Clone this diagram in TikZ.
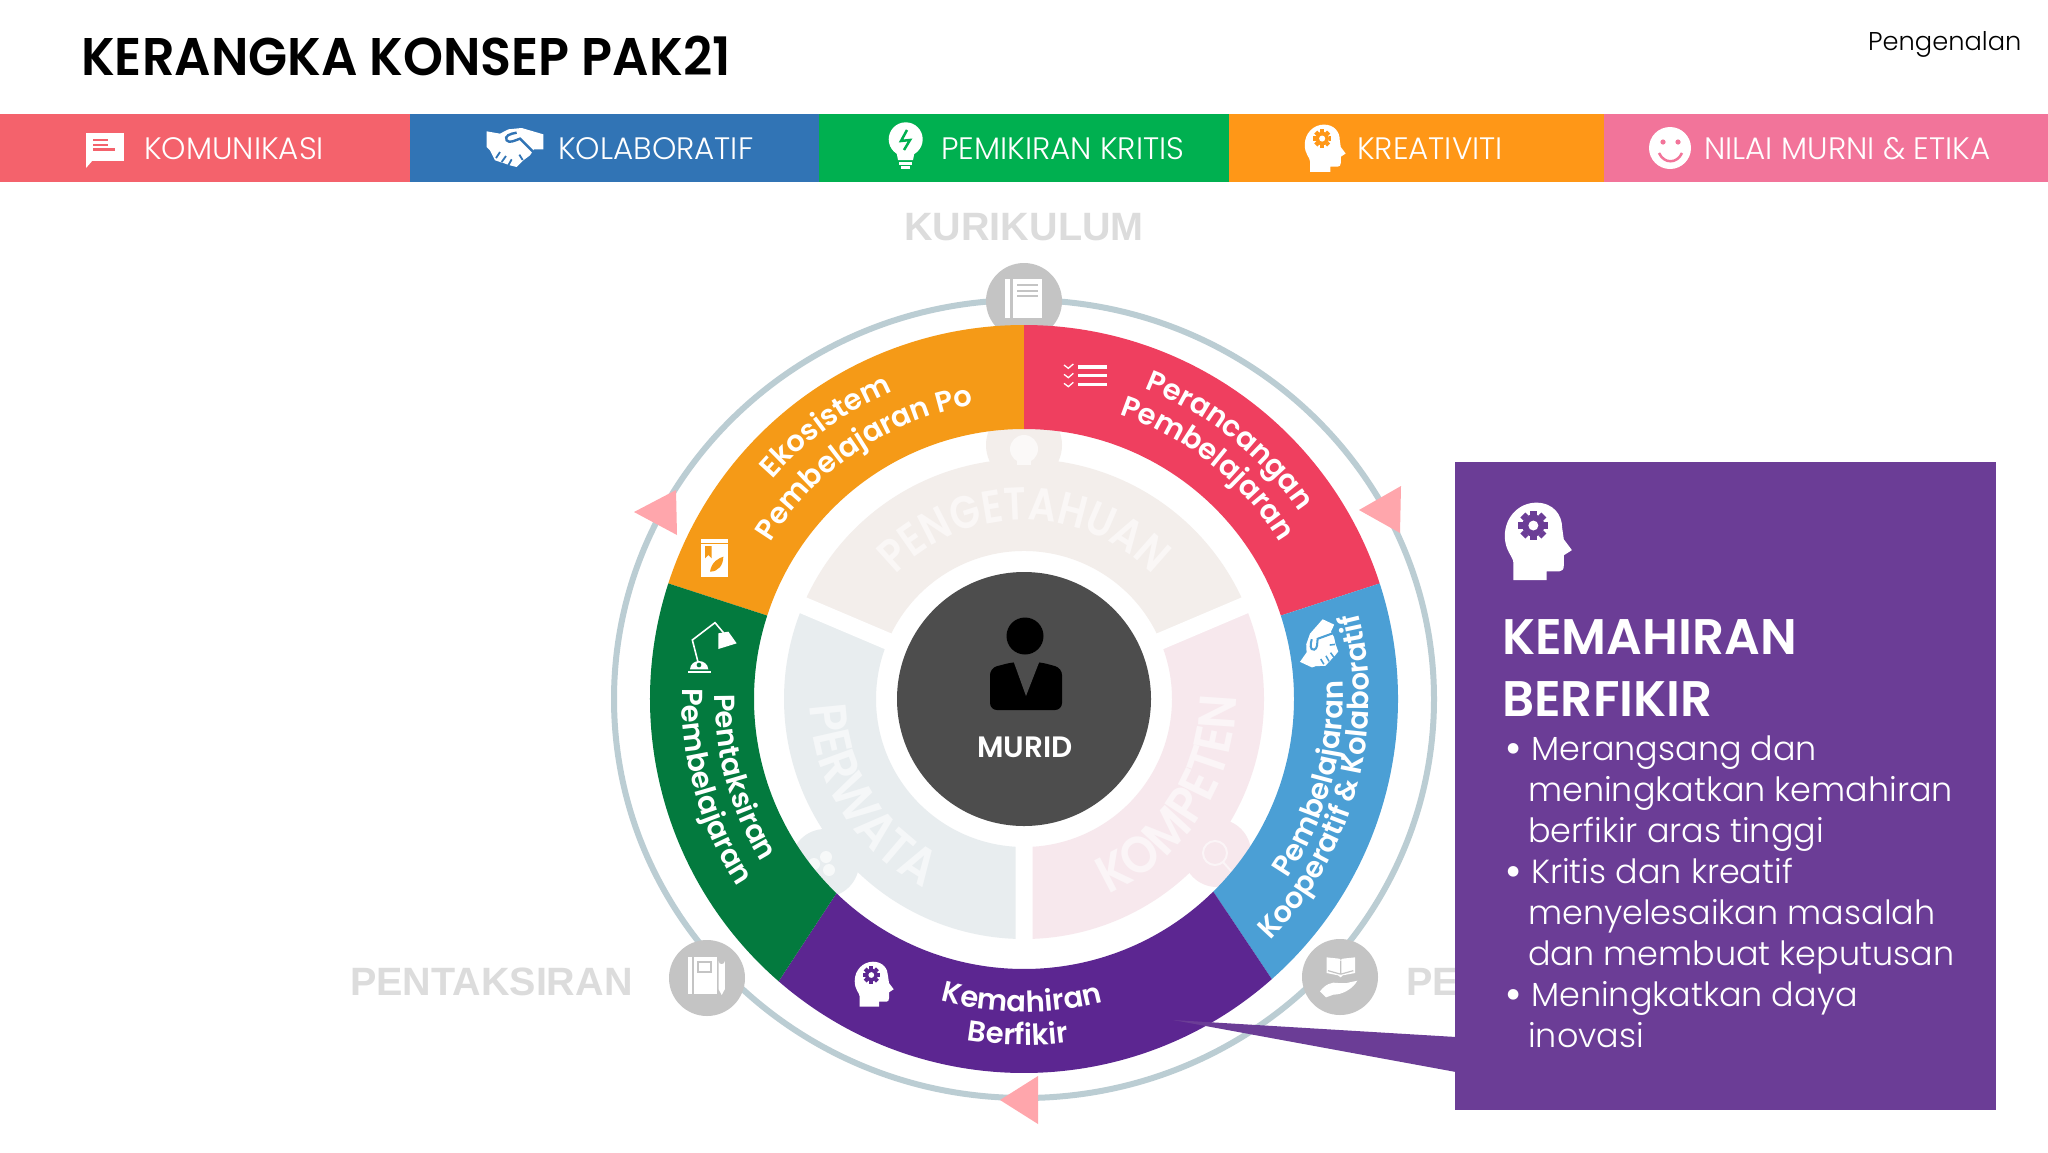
\documentclass[tikz,border=0pt]{standalone}
\usepackage{fontspec}
\usetikzlibrary{decorations.text,calc}
\setmainfont{Poppins}
\newfontfamily\ffLight{Poppins Light}
\newfontfamily\ffMed{Poppins Medium}
\newfontfamily\ffSemi{Poppins SemiBold}
\newfontfamily\ffNarrow{Poppins SemiBold}[FakeStretch=0.85]
\newfontfamily\ffSlim{Poppins SemiBold}[FakeStretch=0.9]
\newfontfamily\ffTitle{Poppins SemiBold}[FakeStretch=0.96]
\newfontfamily\ffArial{Liberation Sans}
\newcommand\px[1]{\fontsize{#1}{#1}\selectfont}
\definecolor{barred}{HTML}{F4626C}
\definecolor{barblue}{HTML}{3174B5}
\definecolor{bargreen}{HTML}{00B050}
\definecolor{barorange}{HTML}{FF9717}
\definecolor{barpink}{HTML}{F2749A}
\definecolor{segorange}{HTML}{F59A17}
\definecolor{segred}{HTML}{EF3F5F}
\definecolor{segblue}{HTML}{4B9FD5}
\definecolor{segpurple}{HTML}{5C2691}
\definecolor{seggreen}{HTML}{037A3E}
\definecolor{panelpurple}{HTML}{6B3D96}
\definecolor{ringblue}{HTML}{BBCDD3}
\definecolor{discgrey}{HTML}{C4C4C4}
\definecolor{labelgrey}{HTML}{DCDCDC}
\definecolor{trianglepink}{HTML}{FFA6AC}
\definecolor{secbeige}{HTML}{F3EEEB}
\definecolor{secgrey}{HTML}{E8EDEF}
\definecolor{secpink}{HTML}{F7E8ED}
\definecolor{darkdisc}{HTML}{4D4D4D}
\newcommand\ringseg[7]{% colour, outer start, outer end, inner start, inner end, R, r
  \fill[#1] (#2:#6) arc[start angle=#2,end angle=#3,radius=#6] -- (#5:#7) arc[start angle=#5,end angle=#4,radius=#7] -- cycle;}
\newcommand\arctext[6]{% colour, font, from, to, radius, text
  \path[decorate,decoration={text along path,text align=center,text color=#1,text={|#2|#6}}] (#3:#5) arc[start angle=#3,end angle=#4,radius=#5];}
\newcommand\gearicon[4]{% x,y,r,colour
  \foreach \g in {0,45,...,315}{\fill[#4] ($(#1,#2)+(\g:#3*0.72)$) ++(\g+90:#3*0.24) -- ++(\g:#3*0.3) -- ++(\g+270:#3*0.48) -- ++(\g+180:#3*0.3) -- cycle;}
  \fill[#4] (#1,#2) circle[radius=#3*0.76];
  \fill[white] (#1,#2) circle[radius=#3*0.34];}
\newcommand\headicon[4]{% x,y,scale,colour of the gear
  \begin{scope}[shift={(#1,#2)},scale=#3]
  \fill[white] (-14.3,22.7) -- (-14.3,12.7) .. controls (-14.3,9) and (-19.3,6) .. (-19.3,-3) .. controls (-19.3,-14) and (-11,-22.3) .. (-1,-22.3) .. controls (9,-22.3) and (14,-15) .. (14,-8) -- (15,-1) -- (19.7,5.3) -- (15,8.3) -- (15,14.3) .. controls (15,16.5) and (14,17.7) .. (12.3,17.7) -- (5,17.7) -- (5,22.7) -- cycle;
  \gearicon{-2.7}{-9}{8.5}{#4}
  \end{scope}}
\newcommand\handsicon[5]{% x,y,rotation,scale,background
  \begin{scope}[shift={(#1,#2)},rotate=#3,scale=#4/3,shift={(-105,-88)}]
  \fill[white] (20,38) -- (60,45) -- (85,32) -- (125,28) -- (190,47) -- (190,92) -- (162,92) -- (150,110) -- (130,125) -- (110,145) -- (90,140) -- (70,133) -- (45,125) -- (30,95) -- (20,85) -- cycle;
  \draw[#5,line width=#4*2.4pt] (110,42) .. controls (90,45) and (72,52) .. (80,65) .. controls (88,75) and (105,65) .. (120,60) -- (160,100);
  \draw[#5,line width=#4*1.8pt] (60,100) -- (48,118) (78,112) -- (65,130) (95,122) -- (85,140) (118,108) -- (128,124);
  \end{scope}}
\tikzset{
  barlabel/.style={anchor=base west,white,font=\ffLight\px{31},inner sep=0pt},
  ringlabel/.style={anchor=base west,labelgrey,font=\ffArial\bfseries\px{39.5},inner sep=0pt},
  paneltext/.style={anchor=base west,white,font=\ffLight\px{33.4},inner sep=0pt},
  panelhead/.style={anchor=base west,white,font=\ffSemi\px{50},inner sep=0pt},
  disc/.style={circle,fill=discgrey,minimum size=76pt,inner sep=0pt},
  triangle/.style={fill=trianglepink}
}
\begin{document}
\begin{tikzpicture}[x=1pt,y=-1pt]
\useasboundingbox (0,0) rectangle (2048,1152);
\fill[white] (0,0) rectangle (2048,1152);
% title
\node[anchor=base west,inner sep=0pt,font=\ffTitle\px{53}] (title) at (81,75) {KERANGKA KONSEP PAK21};
\node[anchor=base west,inner sep=0pt,font=\ffLight\px{25.7}] (section) at (1868,50) {Pengenalan};
% bar
\fill[barred] (0,114) rectangle (410,181.5);
\fill[barblue] (410,114) rectangle (819,181.5);
\fill[bargreen] (819,114) rectangle (1229,181.5);
\fill[barorange] (1229,114) rectangle (1604,181.5);
\fill[barpink] (1604,114) rectangle (2048,181.5);
\node[barlabel] (b1) at (144,159) {KOMUNIKASI};
\node[barlabel] (b2) at (558,159) {KOLABORATIF};
\node[barlabel] (b3) at (941,159) {PEMIKIRAN KRITIS};
\node[barlabel] (b4) at (1357,159) {KREATIVITI};
\node[barlabel] (b5) at (1704,159) {NILAI MURNI \& ETIKA};
% bar icons
\fill[white] (86,133) rectangle (124,161);
\fill[white] (86,160) -- (86,168) -- (93,160) -- cycle;
\draw[barred,line width=2.5pt] (93,140) -- (108,140) (93,145) -- (108,145) (93,149.5) -- (115,149.5);
\handsicon{515}{148}{0}{1}{barblue}
\fill[white] (905.7,139.3) circle[radius=17];
\fill[white] (896,150) -- (915,150) -- (913,160) -- (898,160) -- cycle;
\fill[white] (899,161.5) rectangle (912,165);
\fill[white] (901,166) rectangle (910,168.5);
\draw[bargreen,line width=2.5pt] (907,130) -- (901,141) -- (910,140) -- (904,150);
\headicon{1325}{148}{1.05}{barorange}
\fill[white] (1670,148) circle[radius=21];
\fill[barpink] (1663,142) circle[radius=2.6] (1678,142) circle[radius=2.6];
\draw[barpink,line width=2.5pt] (1659,153) .. controls (1664,164) and (1677,164) .. (1682,153);
% outer labels
\node[ringlabel,anchor=base] (kur) at (1024,240) {KURIKULUM};
\node[ringlabel] (pent) at (350,995) {PENTAKSIRAN};
\node[ringlabel] (ped) at (1406,995) {PE};
\begin{scope}[shift={(1024,699)},y=1pt]
% thin ring
\draw[ringblue,line width=6pt] (0,0) ellipse[x radius=410,y radius=399];
\end{scope}
\node[disc] (dtop) at (1024,301) {};
\node[disc] (dleft) at (707,978) {};
\node[disc] (dright) at (1340,977) {};
% triangles
\fill[triangle] (634,512) -- (676,490) -- (677,535) -- cycle;
\fill[triangle] (1359,510) -- (1401,486) -- (1400,533) -- cycle;
\fill[triangle] (1000,1100) -- (1038,1076) -- (1038,1124) -- cycle;
% disc icons
\fill[white] (1005,279) rectangle (1042,318);
\fill[discgrey] (1010,279) rectangle (1012.5,318);
\draw[discgrey,line width=2pt] (1017,285) -- (1038,285) (1017,290.5) -- (1038,290.5) (1017,295.5) -- (1038,295.5);
\fill[white] (688,957) rectangle (717,994);
\fill[discgrey] (692,957) rectangle (693.5,994);
\fill[discgrey] (697,961) rectangle (712,973);
\fill[white] (699,963) rectangle (710,971);
\fill[white] (718.5,961) arc[start angle=180,end angle=0,radius=3.2] -- (724.9,989) -- (721.7,995) -- (718.5,989) -- cycle;
\begin{scope}[shift={(1300,938)},scale=1/3]
\fill[white] (80,58) -- (118,62) -- (122,66) -- (128,62) -- (165,58) -- (165,105) -- (128,112) -- (122,118) -- (114,112) -- (80,105) -- cycle;
\draw[discgrey,line width=1.2pt] (122,68) -- (122,110) (84,98) -- (120,108) (160,98) -- (124,108);
\fill[white] (60,160) .. controls (75,140) and (95,130) .. (115,135) -- (140,135) -- (172,128) .. controls (160,150) and (130,170) .. (100,170) -- (78,178) -- cycle;
\end{scope}
% pale sectors
\begin{scope}[shift={(1024,699)},y=1pt]
\ringseg{secbeige}{157}{23}{157}{23}{240}{148}
\ringseg{secpink}{23}{-90}{23}{-90}{240}{148}
\ringseg{secgrey}{270}{157}{270}{157}{240}{148}
\draw[white,line width=17pt] (23:140) -- (23:250) (157:140) -- (157:250) (270:140) -- (270:250);
\fill[secbeige] (0,254) circle[radius=38];
\fill[secgrey] (-199,-164) circle[radius=34];
\fill[secpink] (193,-154) circle[radius=34];
\arctext{white!55!secbeige}{\ffNarrow\px{46}}{175}{5}{179}{PENGETAHUAN}
\arctext{white!55!secgrey}{\ffSlim\px{52}}{157}{267}{214}{PERWATA}
\arctext{white!55!secpink}{\ffSlim\px{52}}{-85}{19}{212}{KOMPETEN}
\end{scope}
% faded icons
\fill[white!65!secbeige] (1024,449) circle[radius=14];
\fill[white!65!secbeige] (1017,458) rectangle (1031,465);
\fill[white!65!secgrey] (814,864) circle[radius=6] (826,857) circle[radius=6] (829,870) circle[radius=6];
\draw[white!55!secpink,line width=2pt] (1215,853) circle[radius=12] (1223,862) -- (1231,871);
% coloured ring
\begin{scope}[shift={(1024,699)},y=1pt]
\ringseg{segorange}{162}{90}{162}{90}{374}{270}
\ringseg{segred}{90}{18}{90}{18}{374}{270}
\ringseg{segblue}{18}{-48.5}{18}{-45.5}{374}{270}
\ringseg{segpurple}{-48.5}{-131}{-45.5}{-134}{374}{270}
\ringseg{seggreen}{229}{162}{226}{162}{374}{270}
\fill[darkdisc] (0,0) circle[radius=127];
\arctext{white}{\ffSemi\px{29}}{164}{88}{334}{Ekosistem}
\arctext{white}{\ffSemi\px{29}}{164}{84}{298}{Pembelajaran Po}
\arctext{white}{\ffSemi\px{29}}{89}{14}{333}{Perancangan}
\arctext{white}{\ffSemi\px{29}}{89}{14}{300}{Pembelajaran}
\arctext{white}{\ffSemi\px{29}}{170}{221}{309}{Pentaksiran}
\arctext{white}{\ffSemi\px{29}}{170.5}{221}{342}{Pembelajaran}
\arctext{white}{\ffSemi\px{29}}{-43}{12}{319}{Pembelajaran}
\arctext{white}{\ffSemi\px{29}}{-51}{21}{345}{Kooperatif {\&} Kolaboratif}
\arctext{white}{\ffSemi\px{29}}{-120}{-60.8}{313}{Kemahiran}
\arctext{white}{\ffSemi\px{29}}{-120}{-62}{346}{Berfikir}
\end{scope}
% segment icons
\begin{scope}[shift={(1000,250)},scale=1/3]
\foreach \cy in {350,378,405}{\draw[white,line width=1.3pt] (192,\cy-5) -- (205,\cy+5) -- (220,\cy-8);}
\draw[white,line width=3.3pt] (235,351) -- (320,351) (235,376) -- (320,376) (235,403) -- (320,403);
\end{scope}
\begin{scope}[shift={(600,250)},scale=1/3]
\fill[white] (302,868) -- (383,868) -- (383,982) -- (302,982) -- cycle;
\draw[segorange,line width=1pt] (302,880) -- (383,880);
\fill[segorange] (315,888) -- (335,888) -- (335,925) -- (325,915) -- (315,925) -- cycle;
\fill[segorange] (330,965) .. controls (335,935) and (355,925) .. (370,920) .. controls (370,945) and (355,965) .. (330,965) -- cycle;
\end{scope}
\begin{scope}[shift={(600,250)},scale=1/3]
\draw[white,line width=1.6pt] (295,1240) -- (277,1170) -- (345,1118) -- (372,1150);
\fill[white] (270,1258) .. controls (272,1225) and (322,1225) .. (325,1258) -- cycle;
\fill[seggreen] (297,1245) circle[radius=7];
\fill[white] (265,1262) rectangle (332,1268);
\fill[white] (355,1150) -- (385,1145) -- (410,1180) -- (355,1197) -- cycle;
\end{scope}
\handsicon{1323}{646}{65}{0.85}{segblue}
\headicon{874}{984}{1}{segpurple}
% person
\fill[black] (1025,636) circle[radius=18.5];
\fill[black,rounded corners=7pt] (990,710) -- (990,668) -- (1013,662) -- (1040,662) -- (1062,668) -- (1062,710) -- cycle;
\fill[darkdisc] (1013,660) -- (1040,660) -- (1026,696) -- cycle;
\node[font=\ffSemi\px{29.5},white,inner sep=0pt,anchor=base] (murid) at (1025,757) {MURID};
% callout
\coordinate (tip) at (1173,1020);
\coordinate (ptop) at (1456,1037);
\coordinate (pbot) at (1456,1072);
\fill[panelpurple] (tip) -- (ptop) -- (pbot) -- cycle;
\node[fill=panelpurple,minimum width=541pt,minimum height=648pt,inner sep=0pt,anchor=north west] (panel) at (1455,462) {};
\headicon{1538}{541}{1.72}{panelpurple}
\node[panelhead] (ph1) at (1502,654) {KEMAHIRAN};
\node[panelhead] (ph2) at (1502,716) {BERFIKIR};
\node[paneltext] (l1) at (1531,760) {Merangsang dan};
\node[paneltext] (l2) at (1528,801) {meningkatkan kemahiran};
\node[paneltext] (l3) at (1528,842) {berfikir aras tinggi};
\node[paneltext] (l4) at (1531,883) {Kritis dan kreatif};
\node[paneltext] (l5) at (1528,924) {menyelesaikan masalah};
\node[paneltext] (l6) at (1528,965) {dan membuat keputusan};
\node[paneltext] (l7) at (1531,1006) {Meningkatkan daya};
\node[paneltext] (l8) at (1528,1047) {inovasi};
\node[anchor=base west,inner sep=0pt,white,font=\ffSemi\px{38}] (d1) at (1504,761) {•};
\node[anchor=base west,inner sep=0pt,white,font=\ffSemi\px{38}] (d2) at (1504,884) {•};
\node[anchor=base west,inner sep=0pt,white,font=\ffSemi\px{38}] (d3) at (1504,1007) {•};
\end{tikzpicture}
\end{document}
